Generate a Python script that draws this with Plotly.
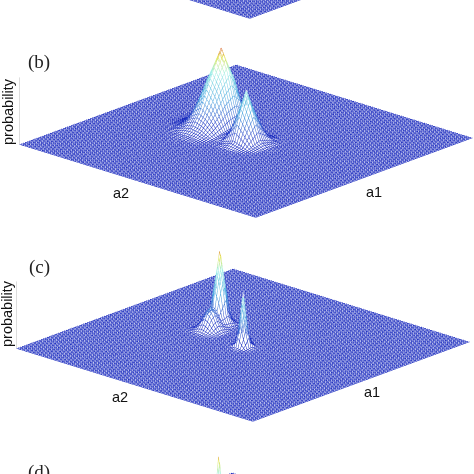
import plotly.graph_objects as go

# ---- values ----
a_nodes = [0, 0.25, 0.5, 0.75, 1]
a_panel_z = [[0] * 5 for _ in range(5)]

b_a1 = [0, .34, .37, .40, .43, .46, .49, .525, .56, .59, .62, .65, .68, .71, 1]
b_a2 = [0, .37, .40, .43, .46, .49, .52, .55, .58, .60, .63, .66, .69, .72, .75, .78, .81, 1]
b_z = [
    [0]*15,
    [0]*15,
    [0, 0, 0, 0, 0, 0, .004, 0, 0, 0, 0, 0, 0, 0, 0],
    [0, 0, 0, 0, .007, .04, .07, .04, .007, 0, 0, 0, 0, 0, 0],
    [0, 0, 0, .002, .04, .22, .39, .22, .04, .002, 0, 0, 0, 0, 0],
    [0, 0, 0, .004, .07, .39, .69, .39, .07, .004, 0, 0, 0, 0, 0],
    [0, 0, 0, .002, .04, .22, .39, .22, .04, .002, 0, 0, 0, 0, 0],
    [0, 0, 0, 0, .007, .043, .076, .048, .015, .005, .002, 0, 0, 0, 0],
    [0, 0, 0, .002, .008, .024, .047, .064, .068, .046, .018, .004, 0, 0, 0],
    [0, 0, .001, .008, .036, .098, .17, .27, .32, .25, .09, .018, .002, 0, 0],
    [0, 0, .003, .02, .085, .2, .36, .58, .75, .58, .213, .044, .005, 0, 0],
    [0, 0, .004, .025, .107, .26, .5, .75, 1.0, .75, .29, .06, .007, 0, 0],
    [0, 0, .003, .02, .085, .2, .36, .58, .75, .58, .213, .044, .005, 0, 0],
    [0, 0, .001, .008, .036, .098, .17, .27, .32, .25, .09, .018, .002, 0, 0],
    [0, 0, 0, .002, .008, .024, .043, .064, .068, .046, .018, .004, 0, 0, 0],
    [0, 0, 0, 0, 0, .003, .006, .008, .008, .005, .002, 0, 0, 0, 0],
    [0]*15,
    [0]*15,
]

c_a1 = [0, .43, .445, .46, .475, .49, .505, .52, .535, .55, .565, .58, .595, .61, .625, .64, .655, 1]
c_a2 = [0, .43, .445, .46, .475, .49, .505, .52, .535, .55, .595, .61, .625, .64, .655, .67, .685, .70, .715, .73, .745, .76, 1]
c_z = [
    [0]*18,
    [0]*18,
    [0]*18,
    [0, 0, 0, 0, .007, .018, .007, 0, 0, 0, 0, 0, 0, 0, 0, 0, 0, 0],
    [0, 0, 0, .007, .115, .29, .115, .007, 0, 0, 0, 0, 0, 0, 0, 0, 0, 0],
    [0, 0, 0, .018, .29, .74, .29, .018, 0, 0, 0, 0, 0, 0, 0, 0, 0, 0],
    [0, 0, 0, .007, .115, .29, .115, .007, 0, 0, 0, 0, 0, 0, 0, 0, 0, 0],
    [0, 0, 0, 0, .007, .018, .007, 0, 0, 0, 0, 0, 0, 0, 0, 0, 0, 0],
    [0]*18,
    [0]*18,
    [0]*18,
    [0]*18,
    [0, 0, 0, 0, 0, .005, .015, .029, .037, .029, .015, .005, 0, 0, 0, 0, 0, 0],
    [0, 0, 0, 0, .003, .015, .047, .094, .118, .094, .05, .027, .023, .012, .003, 0, 0, 0],
    [0, 0, 0, 0, .005, .029, .094, .19, .237, .19, .124, .139, .177, .11, .03, .003, 0, 0],
    [0, 0, 0, 0, .007, .037, .118, .237, .3, .249, .228, .452, .651, .415, .11, .012, 0, 0],
    [0, 0, 0, 0, .005, .029, .094, .19, .237, .21, .266, .673, 1.0, .644, .172, .02, 0, 0],
    [0, 0, 0, 0, 0, .015, .047, .094, .118, .106, .157, .43, .644, .415, .11, .012, 0, 0],
    [0, 0, 0, 0, 0, .005, .015, .029, .037, .032, .045, .115, .172, .11, .03, .003, 0, 0],
    [0, 0, 0, 0, 0, 0, 0, 0, 0, 0, .003, .012, .02, .012, .003, 0, 0, 0],
    [0]*18,
    [0]*18,
    [0]*18,
]

d_a1 = [0, .52, .535, .55, .565, .58, .595, .61, .625, .64, .655, 1]
d_a2 = [0, .61, .625, .64, .655, .67, .685, .70, .715, .73, .745, 1]
d_z = [
    [0]*12,
    [0]*12,
    [0]*12,
    [0]*12,
    [0, 0, 0, 0, .005, .03, .06, .03, .005, 0, 0, 0],
    [0, 0, 0, 0, .03, .2, .45, .2, .03, 0, 0, 0],
    [0, 0, 0, 0, .06, .45, 1.0, .45, .06, 0, 0, 0],
    [0, 0, 0, 0, .03, .2, .45, .2, .03, 0, 0, 0],
    [0, 0, 0, 0, .005, .03, .06, .03, .005, 0, 0, 0],
    [0]*12,
    [0]*12,
    [0]*12,
]

panel_labels = ["(b)", "(c)", "(d)"]
axis_title = "probability"
a2_label, a1_label = "a2", "a1"
z_axis_top = 0.87

# ---- view and style ----
sin_t, cos_t, sin_e, cos_e = 0.7367, 0.676, 0.337, 0.9415
R = 2.5
PX = 237.0
XY_ASPECT = 1.354
Z_ASPECT = 0.345
MESH_STEP = 0.0088
eye = dict(x=-sin_t*cos_e*R, y=-cos_t*cos_e*R, z=sin_e*R)
right = (cos_t, -sin_t, 0)
up = (sin_e*sin_t, sin_e*cos_t, cos_e)
colors = [[0, "#1424bc"], [0.15, "#2a44c8"], [0.4, "#50a8e0"], [0.7, "#a0f0e8"],
          [0.88, "#e8e860"], [1, "#d86030"]]
white = [[0, "white"], [1, "white"]]

fig = go.Figure()

def add_panel(idx, a1, a2, z, zmax, target_x, target_y):
    scene = "scene" if idx == 0 else f"scene{idx+1}"
    contour = dict(show=True, start=0, end=1, size=MESH_STEP, usecolormap=True, width=1, highlight=False)
    fig.add_trace(go.Surface(x=a1, y=a2, z=z, scene=scene, colorscale=white, showscale=False,
                             hoverinfo="skip", lighting=dict(ambient=1, diffuse=0, specular=0, fresnel=0),
                             contours=dict(x=dict(highlight=False), y=dict(highlight=False), z=dict(highlight=False))))
    fig.add_trace(go.Surface(x=a1, y=a2, z=z, scene=scene, colorscale=colors, cmin=0, cmax=zmax,
                             showscale=False, hidesurface=True, hoverinfo="skip",
                             contours=dict(x=contour, y=contour, z=dict(highlight=False))))
    dx = target_x - 237
    dy = 237 - target_y + Z_ASPECT/2 * PX * cos_e
    center = dict(x=-(dx*right[0] + dy*up[0])/PX,
                  y=-(dx*right[1] + dy*up[1])/PX,
                  z=-(dx*right[2] + dy*up[2])/PX)
    fig.update_layout(**{scene: dict(
        domain=dict(x=[0, 1], y=[0, 1]),
        camera=dict(eye=dict(x=eye["x"]+center["x"], y=eye["y"]+center["y"], z=eye["z"]+center["z"]),
                    center=center, up=dict(x=0, y=0, z=1), projection=dict(type="orthographic")),
        aspectmode="manual", aspectratio=dict(x=XY_ASPECT, y=XY_ASPECT, z=Z_ASPECT),
        xaxis=dict(visible=False, range=[0, 1]),
        yaxis=dict(visible=False, range=[0, 1]),
        zaxis=dict(visible=False, range=[0, zmax]),
        bgcolor="rgba(0,0,0,0)",
    )})
    if idx in (1, 2):
        fig.add_trace(go.Scatter3d(x=[0, 0], y=[1, 1], z=[0, z_axis_top*zmax], mode="lines", scene=scene,
                                   line=dict(color="#bbbbbb", width=1), hoverinfo="skip", showlegend=False))

add_panel(0, a_nodes, a_nodes, a_panel_z, 1.0, 240, -58)
add_panel(1, b_a1, b_a2, b_z, 1.0, 246, 141)
add_panel(2, c_a1, c_a2, c_z, 1.02, 243, 345)
add_panel(3, d_a1, d_a2, d_z, 1.02, 242, 549)

serif = dict(family="Liberation Serif", size=19, color="#222222")
sans = dict(family="Liberation Sans", size=14.5, color="#111111")
def note(text, x, y, font, **kw):
    fig.add_annotation(text=text, x=x/474, y=1-y/474, xref="paper", yref="paper", showarrow=False,
                       font=font, xanchor="center", yanchor="middle", **kw)
note(panel_labels[0], 39, 62, serif)
note(panel_labels[1], 39, 267, serif)
note(panel_labels[2], 39, 472, serif)
note(axis_title, 8, 112, sans, textangle=-90)
note(axis_title, 7, 314, sans, textangle=-90)
note(a2_label, 121, 193, sans)
note(a1_label, 374, 192, sans)
note(a2_label, 120, 397, sans)
note(a1_label, 372, 392, sans)

fig.update_layout(width=474, height=474, margin=dict(l=0, r=0, t=0, b=0),
                  paper_bgcolor="white", showlegend=False)
fig.write_html("out.html", config=dict(displayModeBar=False),
               post_script="document.body.style.margin='0';document.body.style.overflow='hidden';")
